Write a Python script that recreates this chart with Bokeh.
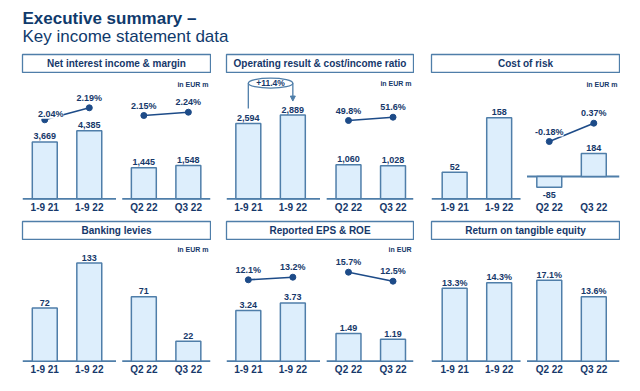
from bokeh.plotting import figure
from bokeh.models import Range1d, FixedTicker, Spacer, Arrow, NormalHead
from bokeh.layouts import column, row
from bokeh.core.properties import value
from bokeh.embed import file_html
from bokeh.resources import INLINE

# ---------------- data ----------------
CATEGORIES = ["1-9 21", "1-9 22", "Q2 22", "Q3 22"]
PANEL_TITLES = ["Net interest income & margin", "Operating result & cost/income ratio", "Cost of risk",
                "Banking levies", "Reported EPS & ROE", "Return on tangible equity"]
nii_eur_m = [3669, 4385, 1445, 1548]
nim_ytd_pct = [2.04, 2.19]
nim_qtr_pct = [2.15, 2.24]
op_result_eur_m = [2594, 2889, 1060, 1028]
op_result_growth = "+11.4%"
cost_income_qtr_pct = [49.8, 51.6]
risk_cost_eur_m = [52, 158, -85, 184]
risk_ratio_qtr_pct = [-0.18, 0.37]
banking_levies_eur_m = [72, 133, 71, 22]
eps_eur = [3.24, 3.73, 1.49, 1.19]
roe_ytd_pct = [12.1, 13.2]
roe_qtr_pct = [15.7, 12.5]
rote_pct = [13.3, 14.3, 17.1, 13.6]

# ---------------- style ----------------
FONT = value("Liberation Sans")
FONT_NAME = "Liberation Sans"
NAVY = "#16386a"
LINE = "#1d4b88"
EDGE = "#4f7ea9"
FILL = "#ddeefc"
UNIT_PX = 4.5

COLS = [
    dict(width=190, x0=-5.0, xs=[0, 10, 22.25, 32.25], ext=(6.0, 4.85)),
    dict(width=189, x0=-4.9, xs=[0, 10, 22.5, 32.5], ext=(6.1, 4.9)),
    dict(width=190, x0=-5.2, xs=[0, 10, 21.25, 31.25], ext=(4.8, 5.0)),
]
ROWS = [dict(top=73, bottom=200, height=147, standoff=1),
        dict(top=240, bottom=362, height=141, standoff=1)]


def lin(v, p, k, top, bottom):
    return Range1d(start=v - (bottom - p) * k, end=v + (p - top) * k)


def header(width, text):
    h = figure(width=width, height=20, x_range=Range1d(0, 1), y_range=Range1d(0, 1),
               x_axis_type=None, y_axis_type=None, output_backend="svg", toolbar_location=None,
               title=None, min_border=1, outline_line_color=EDGE, outline_line_width=1.3)
    h.grid.grid_line_color = None
    h.text(x=[0.5], y=[0.5], text=[text], text_font=FONT, text_font_style="bold",
           text_font_size="10px", text_color=NAVY, text_align="center", text_baseline="middle")
    return h


def panel(col, rw, bars, fmt, lscale, rscale, lines=(), note=None):
    top, bottom = rw["top"], rw["bottom"]
    xs = col["xs"]
    x_end = col["x0"] + col["width"] / UNIT_PX
    p = figure(width=col["width"], height=rw["height"],
               x_range=Range1d(col["x0"], x_end),
               y_range=lin(0, lscale[0], lscale[1], top, bottom),
               y_axis_type=None, output_backend="svg", toolbar_location=None, title=None,
               min_border_left=0, min_border_right=0, min_border_top=0,
               min_border_bottom=rw["height"] - (bottom - top), outline_line_color=None)
    p.grid.grid_line_color = None
    p.extra_y_ranges = {"q": lin(0, rscale[0], rscale[1], top, bottom),
                        "px": Range1d(bottom, top)}
    ax = p.xaxis[0]
    ax.ticker = FixedTicker(ticks=xs)
    ax.major_label_overrides = {x: c for x, c in zip(xs, CATEGORIES)}
    ax.axis_line_color = None
    ax.major_tick_line_color = None
    ax.minor_tick_line_color = None
    ax.major_tick_out = 0
    ax.major_tick_in = 0
    ax.major_label_standoff = rw["standoff"]
    ax.major_label_text_font = FONT_NAME
    ax.major_label_text_font_style = "bold"
    ax.major_label_text_font_size = "10px"
    ax.major_label_text_color = NAVY

    # baselines
    p.segment(x0=[col["x0"]], x1=[xs[1] + col["ext"][0]], y0=[0], y1=[0],
              line_color=EDGE, line_width=1.8)
    p.segment(x0=[xs[2] - col["ext"][1]], x1=[x_end], y0=[0], y1=[0],
              line_color=EDGE, line_width=1.8, y_range_name="q")

    for idx, rn in (([0, 1], "default"), ([2, 3], "q")):
        bx = [xs[i] for i in idx]
        bv = [bars[i] for i in idx]
        p.vbar(x=bx, top=bv, bottom=0, width=5.6, fill_color=FILL, line_color=EDGE,
               line_width=1.5, y_range_name=rn)
        for x, v in zip(bx, bv):
            p.text(x=[x], y=[v], text=[fmt.format(v)], text_font=FONT, text_font_style="bold",
                   text_font_size="9px", text_color=NAVY, text_align="center",
                   text_baseline="alphabetic", y_offset=(-5.5 if v >= 0 else 8.0),
                   y_range_name=rn)

    for spec in lines:
        grp, vals, pref, k, lfmt = spec[:5]
        offs = spec[5] if len(spec) > 5 else [(0, -10), (0, -10)]
        name = "l%d" % grp
        p.extra_y_ranges[name] = lin(vals[0], pref, k, top, bottom)
        lx = xs[2 * grp: 2 * grp + 2]
        p.line(x=lx, y=vals, line_color=LINE, line_width=1.6, y_range_name=name)
        p.scatter(x=lx, y=vals, size=6, fill_color=LINE, line_color=LINE, y_range_name=name)
        for x, v, (dx, dy) in zip(lx, vals, offs):
            p.text(x=[x], y=[v], text=[lfmt.format(v)], text_font=FONT,
                   text_font_style="bold", text_font_size="9px", text_color=NAVY,
                   text_align="center", text_baseline="alphabetic", x_offset=dx, y_offset=dy,
                   background_fill_color="white", y_range_name=name)

    if note:
        p.text(x=[x_end - 0.45], y=[note[1]], text=[note[0]], text_font=FONT,
               text_font_style="bold", text_font_size="7px", text_color=NAVY,
               text_align="right", text_baseline="alphabetic", y_offset=-3,
               y_range_name="px")
    return p


p1 = panel(COLS[0], ROWS[0], nii_eur_m, "{:,}", (198.3, 64.5), (198.3, 46.5),
           lines=[(0, nim_ytd_pct, 119.3, 0.0125, "{:.2f}%", [(6, -6), (0, -10)]),
                  (1, nim_qtr_pct, 115.0, 0.0273, "{:.2f}%")],
           note=("in EUR m", 86.7))
p2 = panel(COLS[1], ROWS[0], op_result_eur_m, "{:,}", (198.3, 34.5), (198.3, 31.2),
           lines=[(1, cost_income_qtr_pct, 120.0, 0.545, "{:.1f}%")],
           note=("in EUR m", 86.0))
p3 = panel(COLS[2], ROWS[0], risk_cost_eur_m, "{:,}", (198.3, 1.95), (176.0, 8.0),
           lines=[(1, risk_ratio_qtr_pct, 141.0, 0.03005, "{:.2f}%")],
           note=("in EUR m", 86.7))
p4 = panel(COLS[0], ROWS[1], banking_levies_eur_m, "{:,}", (360.7, 1.355), (360.7, 1.1),
           note=("in EUR m", 252.3))
p5 = panel(COLS[1], ROWS[1], eps_eur, "{:.2f}", (360.7, 0.064), (360.7, 0.054),
           lines=[(0, roe_ytd_pct, 279.3, 0.423, "{:.1f}%"),
                  (1, roe_qtr_pct, 271.7, 0.356, "{:.1f}%")],
           note=("in EUR", 251.7))
p6 = panel(COLS[2], ROWS[1], rote_pct, "{:.1f}%", (360.7, 0.1825), (360.7, 0.211))

# growth bracket on operating result (1-9 21 -> 1-9 22)
xs2 = COLS[1]["xs"]
base2, k2 = 198.3, 34.5
level = 82.7
y_from = base2 - op_result_eur_m[0] / k2 - 15
y_to = base2 - op_result_eur_m[1] / k2 - 14
p2.segment(x0=[xs2[0]], x1=[xs2[0]], y0=[y_from], y1=[level], line_color=EDGE,
           line_width=1.3, y_range_name="px")
p2.add_layout(Arrow(x_start=xs2[1], y_start=level, x_end=xs2[1], y_end=y_to,
                    line_color=EDGE, line_width=1.3, y_range_name="px",
                    end=NormalHead(size=5, fill_color=EDGE, line_color=EDGE)))
p2.ellipse(x=[(xs2[0] + xs2[1]) / 2], y=[level], width=xs2[1] - xs2[0], height=10,
           fill_color="white", line_color=EDGE, line_width=1.3, y_range_name="px")
p2.text(x=[(xs2[0] + xs2[1]) / 2], y=[level], text=[op_result_growth], text_font=FONT,
        text_font_style="bold", text_font_size="8.5px", text_color=NAVY,
        text_align="center", text_baseline="middle", y_range_name="px")

# title
tf = figure(width=640, height=53, x_range=Range1d(0, 640), y_range=Range1d(53, 0),
            x_axis_type=None, y_axis_type=None, output_backend="svg", toolbar_location=None,
            title=None, min_border=0, outline_line_color=None)
tf.grid.grid_line_color = None
tf.text(x=[22], y=[17.5], text=["Executive summary \u2013"], text_font=FONT,
        text_font_style="bold", text_font_size="17px", text_color="#0f3a6c",
        text_baseline="alphabetic")
tf.text(x=[22], y=[36], text=["Key income statement data"], text_font=FONT,
        text_font_size="17px", text_color="#0f3a6c", text_baseline="alphabetic")

# bottom rule
bl = figure(width=599, height=2, x_range=Range1d(0, 1), y_range=Range1d(0, 1),
            x_axis_type=None, y_axis_type=None, output_backend="svg", toolbar_location=None,
            title=None, min_border=0, outline_line_color=None,
            background_fill_color=EDGE, border_fill_color=EDGE)
bl.grid.grid_line_color = None


def prow(panels, titles):
    return row(Spacer(width=21, height=1),
               column(header(COLS[0]["width"], titles[0]), panels[0]),
               Spacer(width=14, height=1),
               column(header(COLS[1]["width"], titles[1]), panels[1]),
               Spacer(width=16, height=1),
               column(header(COLS[2]["width"], titles[2]), panels[2]))


layout = column(tf, prow([p1, p2, p3], PANEL_TITLES[:3]), prow([p4, p5, p6], PANEL_TITLES[3:]),
                row(Spacer(width=21, height=1), bl))

open("out.html", "w").write(file_html(layout, INLINE))
